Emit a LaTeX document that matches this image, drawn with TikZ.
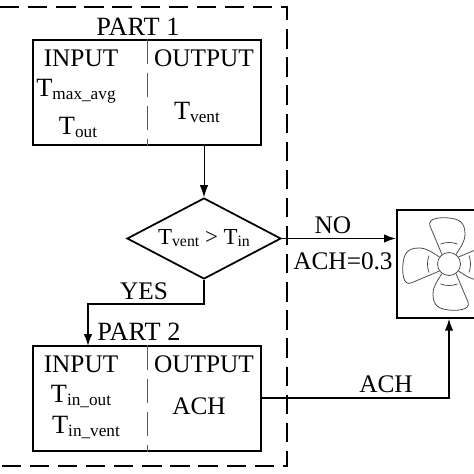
\documentclass[tikz,border=0pt]{standalone}
\usepackage{fontspec}
\setmainfont{Liberation Serif}
\usepackage{tikz}
\usetikzlibrary{shapes.geometric,arrows.meta,positioning}
\newcommand{\tsub}[2][9.8]{T\raisebox{-0.25ex}{\fontsize{#1}{12}\selectfont #2}}

\begin{document}
\begin{tikzpicture}[
        x=0.02cm, y=-0.02cm,
        partbox/.style={rectangle, draw, line width=1pt, minimum width=4.56cm, minimum height=2.1cm, inner sep=0pt},
        decision/.style={diamond, draw, line width=1pt, minimum width=3.08cm, minimum height=1.62cm, inner sep=0pt},
        fanbox/.style={rectangle, draw, line width=1pt, minimum width=3.2cm, minimum height=2.16cm, inner sep=0pt},
        lbl/.style={font=\fontsize{14.4}{16}\selectfont, inner sep=0pt},
        ttl/.style={font=\fontsize{15}{17}\selectfont, inner sep=0pt},
        var/.style={font=\fontsize{15}{17}\selectfont, inner sep=0pt},
        arrowstyle/.style={-{Latex[length=2.4mm,width=1.7mm]}, line width=0.9pt},
        splitline/.style={dash pattern=on 14pt off 5pt, line width=0.4pt, gray!70!black},
        frameline/.style={line width=1pt, dash pattern=on 11pt off 5pt},
        bladeline/.style={line width=0.45pt, black!70}
    ]
        \useasboundingbox (0,0) rectangle (474,474);

        % boxes
        \node[partbox] (part1) at (147,92.5) {};
        \node[partbox] (part2) at (147,398.5) {};
        \node[decision] (check) at (204,238.5) {};
        \node[fanbox, anchor=north west] (fan) at (396,209) {};
        \coordinate (hub) at (449,264);

        % part 1 texts
        \node[ttl] (title1) at (138,27) {PART 1};
        \node[lbl] (in1) at (81,58) {INPUT};
        \node[lbl] (out1) at (204,58) {OUTPUT};
        \node[var] (tmax) at (76,91) {\tsub{max\_avg}};
        \node[var] (tout) at (78,127) {\tsub{out}};
        \node[var] (tvent) at (197,112) {\tsub{vent}};
        \node[font=\fontsize{13}{15}\selectfont, inner sep=0pt] (cond) at (204,238) {\tsub[9]{vent} > \tsub[9]{in}};

        % part 2 texts
        \node[ttl] (title2) at (139,332) {PART 2};
        \node[lbl] (in2) at (81,364) {INPUT};
        \node[lbl] (out2) at (204,364) {OUTPUT};
        \node[var] (tinout) at (81,396) {\tsub{in\_out}};
        \node[var] (tinvent) at (86,427) {\tsub{in\_vent}};
        \node[lbl] (achout) at (199,406) {ACH};

        % connector labels
        \node[lbl] (yes) at (144,291) {YES};
        \node[lbl] (no) at (333,225) {NO};
        \node[lbl] (low) at (343,261) {ACH=0.3};
        \node[lbl] (ach) at (386,384) {ACH};

        % dividers
        \draw[splitline] (part1.north) -- (part1.south);
        \draw[splitline] (part2.north) -- (part2.south);

        % connectors
        \draw[arrowstyle, line width=0.5pt] (part1.south -| check.north) -- (check.north);
        \draw[arrowstyle] (check.south) |- (88,304) -- (88,346);
        \draw[arrowstyle] (check.east) -- (check.east -| fan.west);
        \draw[arrowstyle] (part2.east |- 0,398) -| (hub |- fan.south);

        % dashed frame
        \draw[frameline] (0,7) -- (287,7) -- (287,466) -- (0,466);

        % fan
        \draw[bladeline] (hub) circle (11.5);
        \foreach \ang in {0,90,180,270} {
            \begin{scope}[shift={(hub)}, rotate=\ang]
                \draw[bladeline] (-7,-9.5) -- (-19,-38) .. controls (-22,-46) and (-8,-47) .. (0,-46)
                    .. controls (10,-45) and (16,-42) .. (16,-30) .. controls (16,-22) and (11,-16) .. (7,-9.5);
                \draw[bladeline] (-8.5,-20) .. controls (-3,-22) and (3,-22) .. (8.5,-20);
            \end{scope}
        }
    \end{tikzpicture}
\end{document}
